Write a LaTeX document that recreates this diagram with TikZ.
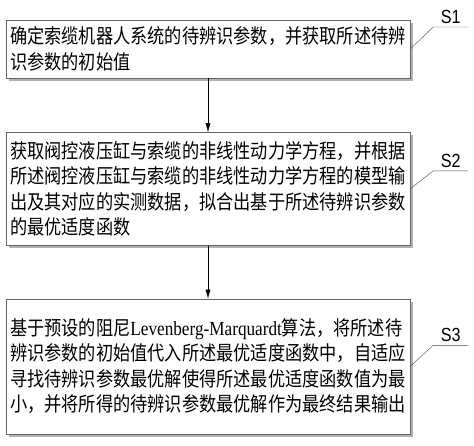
\documentclass[tikz,border=0pt]{standalone}
\usepackage{fontspec}
\setmainfont{Liberation Serif}
\newfontfamily\cjk[FakeStretch=0.86]{Noto Sans CJK SC}
\newfontfamily\lat[FakeStretch=0.86]{Liberation Serif}
\newfontfamily\lblfont[FakeStretch=0.85]{Liberation Sans}
\usetikzlibrary{calc,positioning,shadows,arrows.meta}
\tikzstyle{stepbox}=[rectangle,draw=black!60,fill=white,thin,inner xsep=4pt,inner ysep=0pt,
	text width=396pt,align=left,font=\cjk\fontsize{20}{25.5}\selectfont,
	drop shadow={shadow xshift=3pt,shadow yshift=-3pt,fill=black!30,opacity=1}]
\tikzstyle{flow}=[thin,-{Latex[length=9pt,width=5pt]}]
\tikzstyle{leader}=[thin,black!70]
\tikzstyle{steplbl}=[inner sep=3pt,font=\lblfont\fontsize{19}{19}\selectfont]

\begin{document}
\begin{tikzpicture}[x=1pt,y=1pt]
\useasboundingbox (0,0) rectangle (474,-445);

% steps
\node[stepbox,minimum height=58pt] (b1) at (208,-49) {确定索缆机器人系统的待辨识参数，并获取所述待辨\\识参数的初始值};
\node[stepbox,minimum height=113pt,below=54pt of b1] (b2) {获取阀控液压缸与索缆的非线性动力学方程，并根据\\所述阀控液压缸与索缆的非线性动力学方程的模型输\\出及其对应的实测数据，拟合出基于所述待辨识参数\\的最优适度函数};
\node[stepbox,minimum height=135pt,below=53pt of b2] (b3) {基于预设的阻尼{\lat Levenberg-Marquardt}算法，将所述待\\辨识参数的初始值代入所述最优适度函数中，自适应\\寻找待辨识参数最优解使得所述最优适度函数值为最\\小，并将所得的待辨识参数最优解作为最终结果输出};

\draw[flow] (b1) -- (b2);
\draw[flow] (b2) -- (b3);

% step labels
\foreach \b/\s/\d in {b1/S1/22,b2/S2/18,b3/S3/21}{
	\coordinate[above right=\d pt and 23pt of \b.east] (k\s);
	\coordinate[right=35pt of k\s] (e\s);
	\coordinate (m\s) at ($(k\s)!0.5!(e\s)$);
	\node[steplbl,above=0pt of m\s] (l\s) {\s};
	\draw[leader] (\b.east) -- (k\s) -- (e\s);
}
\end{tikzpicture}
\end{document}
